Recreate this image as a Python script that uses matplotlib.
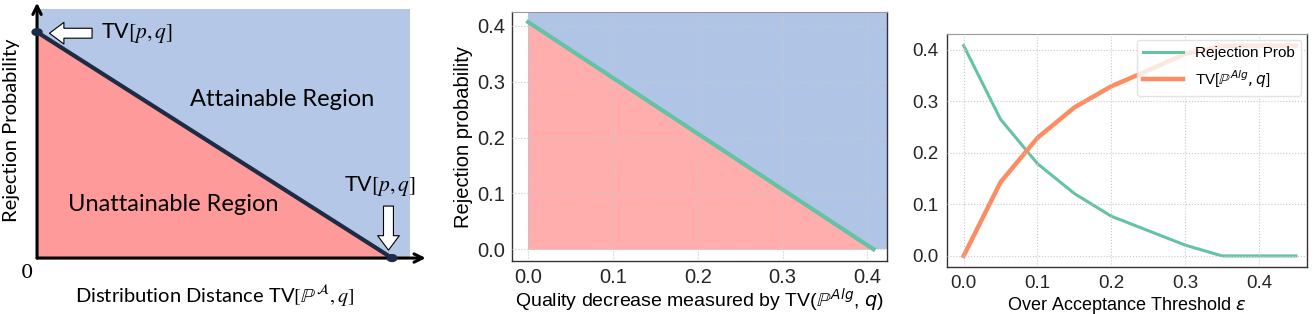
import matplotlib
matplotlib.use("Agg")
import matplotlib.pyplot as plt
from matplotlib.patches import Ellipse

# ---- data ----
# left panel: conceptual diagram (TV[p,q] normalised to 1)
diagram_tv = 1.0
diagram_extent_x = 1.05
diagram_extent_y = 1.10

# middle panel: frontier of rejection prob vs quality loss
tv_pq = 0.407
frontier_x = [0.0, tv_pq]
frontier_y = [tv_pq, 0.0]

# right panel: sweep over the over-acceptance threshold
eps = [0.0, 0.05, 0.10, 0.15, 0.20, 0.25, 0.30, 0.35, 0.40, 0.45]
rej_prob = [0.408, 0.265, 0.179, 0.121, 0.077, 0.049, 0.021, 0.0, 0.0, 0.0]
tv_alg = [0.0, 0.143, 0.229, 0.288, 0.329, 0.360, 0.392, 0.407, 0.408, 0.408]
ticks = [0.0, 0.1, 0.2, 0.3, 0.4]

BLUE = "#b4c7e7"
RED = "#ff9a9a"
NAVY = "#1d2b45"
GREEN = "#66c2a5"
ORANGE = "#fc8d62"

plt.rcParams["font.family"] = ["Liberation Sans", "DejaVu Sans"]

W, H = 1316, 314
fig = plt.figure(figsize=(W / 100, H / 100), dpi=100)


def px_axes(x0, y0, x1, y1):
    return fig.add_axes([x0 / W, 1 - y1 / H, (x1 - x0) / W, (y1 - y0) / H])


# ---------------- left diagram ----------------
ax1 = px_axes(20, 0, 430, 275)
ax1.set_xlim(-0.048, 1.107)
ax1.set_ylim(-0.075, 1.142)
ax1.axis("off")

ax1.fill_between([0, diagram_extent_x], 0, diagram_extent_y, color=BLUE, lw=0)
ax1.fill([0, 0, diagram_tv], [diagram_tv, 0, 0], color=RED, lw=0)
ax1.plot([0, diagram_tv], [diagram_tv, 0], color=NAVY, lw=3, solid_capstyle="round")
ax1.plot([0, diagram_tv], [0, 0], color="#5a0000", lw=1.5)
for cx, cy in [(0, diagram_tv), (diagram_tv, 0)]:
    ax1.add_patch(Ellipse((cx, cy), 0.028, 0.03, color=NAVY, zorder=5))

# axis arrows
ax1.annotate("", xy=(0, 1.13), xytext=(0, 0),
             arrowprops=dict(arrowstyle="->,head_length=0.6,head_width=0.3",
                             color="black", lw=2.2, shrinkA=0, shrinkB=0))
ax1.annotate("", xy=(1.095, 0), xytext=(0, 0),
             arrowprops=dict(arrowstyle="->,head_length=0.6,head_width=0.3",
                             color="black", lw=2.2, shrinkA=0, shrinkB=0))

# white block arrows
block = dict(arrowstyle="simple,head_length=0.8,head_width=1.2,tail_width=0.55",
             fc="white", ec="black", lw=0.8, shrinkA=0, shrinkB=0,
             mutation_scale=13)
ax1.annotate("", xy=(0.035, 0.995), xytext=(0.155, 0.995), arrowprops=block)
ax1.annotate("", xy=(0.99, 0.035), xytext=(0.99, 0.23), arrowprops=block)

cal = ["Lato", "DejaVu Sans"]
ax1.text(0.18, 0.995, r"TV$[p, q]$", fontsize=15.5, family=cal, math_fontfamily="stix",
         va="center", ha="left")
ax1.text(0.965, 0.32, r"TV$[p, q]$", fontsize=15.5, family=cal, math_fontfamily="stix",
         va="center", ha="center")
ax1.text(0.69, 0.70, "Attainable Region", fontsize=17, family=cal,
         ha="center", va="center")
ax1.text(0.383, 0.235, "Unattainable Region", fontsize=17, family=cal,
         ha="center", va="center")
ax1.text(-0.028, -0.066, "0", fontsize=14, family="DejaVu Serif",
         ha="center", va="center")
ax1.text(-0.072, 0.566, "Rejection Probability", fontsize=14.5, family=cal,
         rotation=90, ha="center", va="center")
ax1.text(0.50, -0.17, r"Distribution Distance TV$[\mathbb{P}^{\mathcal{A}}, q]$",
         fontsize=14.5, family=cal, math_fontfamily="stix", ha="center", va="center")


def style(ax):
    ax.set_facecolor("white")
    ax.grid(True, ls=":", color="#c8c8c8", lw=0.8)
    ax.set_axisbelow(False)
    for side in ["left", "bottom", "right"]:
        ax.spines[side].set_color("#333333")
        ax.spines[side].set_linewidth(1.0)
    ax.spines["top"].set_color("#999999")
    ax.tick_params(length=0, colors="#262626", pad=6)
    ax.set_xticks(ticks)
    ax.set_yticks(ticks)


# ---------------- middle panel ----------------
ax2 = px_axes(512, 12, 887, 261)
style(ax2)
ax2.set_xlim(-0.019, 0.423)
ax2.set_ylim(-0.021, 0.425)
ax2.fill_between([0, 0.423], 0, 0.425, color="#b0c4e6", lw=0, zorder=0.5)
ax2.fill_between(frontier_x, frontier_y, 0, color="#ffadad", lw=0, zorder=0.6)
ax2.plot(frontier_x, frontier_y, color=GREEN, lw=3, zorder=3)
ax2.tick_params(labelsize=14.5, pad=5)
ax2.set_ylabel("Rejection probability", fontsize=14.5, labelpad=3)
ax2.set_xlabel(r"Quality decrease measured by TV($\mathbb{P}^{Alg}$, $q$)",
               fontsize=14, math_fontfamily="dejavusans", labelpad=0)

# ---------------- right panel ----------------
ax3 = px_axes(947, 34, 1307, 267)
style(ax3)
ax3.set_xlim(-0.0225, 0.465)
ax3.set_ylim(-0.0215, 0.4305)
ax3.plot(eps, rej_prob, color=GREEN, lw=2.2, label="Rejection Prob")
ax3.plot(eps, tv_alg, color=ORANGE, lw=3.2, label=r"TV[$\mathbb{P}^{Alg}, q$]")
ax3.tick_params(labelsize=13.5)
ax3.set_xlabel(r"Over Acceptance Threshold $\epsilon$", fontsize=13,
               math_fontfamily="dejavusans", labelpad=2)
leg = ax3.legend(loc="upper right", framealpha=0.8,
                 edgecolor="#dddddd", borderaxespad=0.4, handlelength=2.6,
                 prop={"family": ["Liberation Sans", "DejaVu Sans"], "size": 11,
                       "math_fontfamily": "dejavusans"})

fig.savefig("out.png", dpi=100)
